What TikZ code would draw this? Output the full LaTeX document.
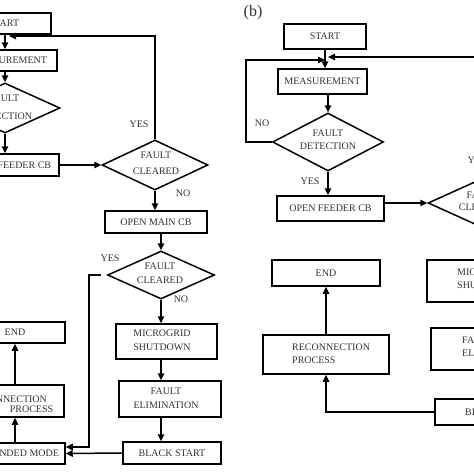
\documentclass[tikz,border=0pt]{standalone}
\usepackage{fontspec}
\setmainfont{Liberation Serif}
\usetikzlibrary{arrows.meta,shapes.geometric}
\definecolor{txt}{gray}{0.2}
\tikzset{
  box/.style={draw=black, line width=1.5pt, inner sep=0pt, text=txt, font=\fontsize{10}{12}\selectfont},
  dia/.style={diamond, draw=black, line width=1.5pt, inner sep=0pt},
  lbl/.style={inner sep=0pt, text=txt, align=center},
  arr/.style={line width=1.5pt, -{Triangle[length=7pt,width=6.5pt]}},
  ln/.style={line width=1.5pt},
}
\begin{document}
\begin{tikzpicture}[x=1pt,y=-1pt]
\useasboundingbox (0,0) rectangle (474,474);
\fill[white] (0,0) rectangle (474,474);
\clip (0,0) rectangle (474,474);

% ---------------- (a) ----------------
\node[box, minimum width=94, minimum height=21] (a_start) at (4,23.5) {START};
\node[box, minimum width=96, minimum height=21] (a_meas) at (9,60.5) {MEASUREMENT};
\node[dia, minimum width=110, minimum height=50] (a_fd) at (5,108) {};
\node[lbl, font=\fontsize{10}{18}\selectfont] (a_fdt) at (4,107) {FAULT\\DETECTION};
\node[box, minimum width=98, minimum height=22] (a_ofcb) at (10,165) {OPEN FEEDER CB};
\node[dia, minimum width=106, minimum height=50] (a_fc1) at (155,165) {};
\node[lbl, font=\fontsize{10}{16}\selectfont] (a_fc1t) at (156,163) {FAULT\\CLEARED};
\node[box, minimum width=102, minimum height=22] (a_omcb) at (156,222) {OPEN MAIN CB};
\node[dia, minimum width=107, minimum height=48] (a_fc2) at (161,275) {};
\node[lbl, font=\fontsize{10}{14}\selectfont] (a_fc2t) at (160,273) {FAULT\\CLEARED};
\node[box, minimum width=101, minimum height=35] (a_ms) at (166.5,341.5) {};
\node[lbl, font=\fontsize{10}{14}\selectfont] (a_mst) at (162,340) {MICROGRID\\SHUTDOWN};
\node[box, minimum width=102, minimum height=36] (a_fe) at (170,399) {};
\node[lbl, font=\fontsize{10}{14}\selectfont] (a_fet) at (166,398) {FAULT\\ELIMINATION};
\node[box, minimum width=98, minimum height=22] (a_bs) at (172,453) {BLACK START};
\node[box, minimum width=94, minimum height=21] (a_isl) at (18,453.5) {ISLANDED MODE};
\node[box, minimum width=98, minimum height=32] (a_rec) at (15,401) {};
\node[lbl, font=\fontsize{10}{12}\selectfont] (a_rt1) at (8,399) {RECONNECTION};
\node[lbl, font=\fontsize{10}{12}\selectfont] (a_rt2) at (31.5,409.5) {PROCESS};
\node[box, minimum width=100, minimum height=21] (a_end) at (15,332.5) {END};

\node[lbl, font=\fontsize{10}{12}\selectfont] (a_yes1) at (139,124) {YES};
\node[lbl, font=\fontsize{10}{12}\selectfont] (a_no1) at (183,193) {NO};
\node[lbl, font=\fontsize{10}{12}\selectfont] (a_yes2) at (110,258) {YES};
\node[lbl, font=\fontsize{10}{12}\selectfont] (a_no2) at (181,299) {NO};

\coordinate (a_j) at (9,36);
\coordinate (a_c1) at (89,447);

\draw[arr] (a_fd.north |- a_start.south) -- (a_fd.north |- a_meas.north);
\draw[arr] (a_fc1.north) |- (a_j);
\draw[arr] (a_fd.north |- a_meas.south) -- (a_fd.north);
\draw[arr] (a_fd.south) -- (a_fd.south |- a_ofcb.north);
\draw[arr] (a_ofcb.east) -- (a_fc1.west);
\draw[arr] (a_fc1.south) -- (a_fc1.south |- a_omcb.north);
\draw[arr] (a_fc2.north |- a_omcb.south) -- (a_fc2.north);
\draw[arr] (a_fc2.south) -- (a_fc2.south |- a_ms.north);
\draw[arr] (a_fc2.south |- a_ms.south) -- (a_fc2.south |- a_fe.north);
\draw[arr] (a_fc2.south |- a_fe.south) -- (a_fc2.south |- a_bs.north);
\draw[arr] (a_bs.west) -- (a_isl.east);
\draw[arr, shorten <=6pt] (a_fc2.west) -| (a_c1) -- (a_c1 -| a_isl.east);
\draw[arr] (a_rec.south |- a_isl.north) -- (a_rec.south);
\draw[arr] (a_rec.north) -- (a_end.south);

% ---------------- (b) ----------------
\node[lbl, font=\fontsize{16}{18}\selectfont] (b_lab) at (253,13) {(b)};
\node[box, minimum width=82, minimum height=25] (b_start) at (325,36.5) {START};
\node[box, minimum width=89, minimum height=25] (b_meas) at (322.5,81.5) {MEASUREMENT};
\node[dia, minimum width=111, minimum height=58] (b_fd) at (328,142) {};
\node[lbl, font=\fontsize{10}{13}\selectfont] (b_fdt) at (328,139.5) {FAULT\\DETECTION};
\node[box, minimum width=107, minimum height=25] (b_ofcb) at (330.5,208.5) {OPEN FEEDER CB};
\node[dia, minimum width=110, minimum height=50] (b_fc) at (483,203) {};
\node[lbl, font=\fontsize{10}{12}\selectfont] (b_fct) at (482,201) {FAULT\\CLEARED};
\node[box, minimum width=120, minimum height=42] (b_ms) at (487,281) {};
\node[lbl, align=left, anchor=west, font=\fontsize{10}{13}\selectfont] (b_mst) at (457,278.5) {MICROGRID\\SHUTDOWN};
\node[box, minimum width=118, minimum height=42] (b_fe) at (490,349) {};
\node[lbl, align=left, anchor=west, font=\fontsize{10}{13}\selectfont] (b_fet) at (462,346.5) {FAULT\\ELIMINATION};
\node[box, minimum width=124, minimum height=26] (b_bs) at (497,412) {};
\node[lbl, anchor=west, font=\fontsize{10}{12}\selectfont] (b_bst) at (465,412) {BLACK START};
\node[box, minimum width=126, minimum height=39] (b_rec) at (326,354.5) {};
\node[lbl, align=left, anchor=west, font=\fontsize{10}{13}\selectfont] (b_rect) at (292,353.5) {RECONNECTION\\PROCESS};
\node[box, minimum width=108, minimum height=26] (b_end) at (326,273) {END};

\node[lbl, font=\fontsize{10}{12}\selectfont] (b_no) at (262,123) {NO};
\node[lbl, font=\fontsize{10}{12}\selectfont] (b_yes1) at (310,181) {YES};
\node[lbl, font=\fontsize{10}{12}\selectfont] (b_yes2) at (477,160) {YES};

\coordinate (b_c1) at (246,60);
\coordinate (b_j1) at (325,60);
\coordinate (b_j2) at (328,57);
\coordinate (b_r) at (500,57);

\draw[arr] (b_start.south -| b_j1) -- (b_meas.north -| b_j1);
\draw[arr] (b_fd.west) -| (b_c1) -- (b_j1);
\draw[arr] (b_r) -- (b_j2);
\draw[arr] (b_fd.north |- b_meas.south) -- (b_fd.north);
\draw[arr] (b_fd.south) -- (b_fd.south |- b_ofcb.north);
\draw[arr] (b_ofcb.east |- b_fc.west) -- (b_fc.west);
\draw[arr] (b_bs.west) -| (b_rec.south);
\draw[arr] (b_rec.north) -- (b_end.south);
\end{tikzpicture}
\end{document}
